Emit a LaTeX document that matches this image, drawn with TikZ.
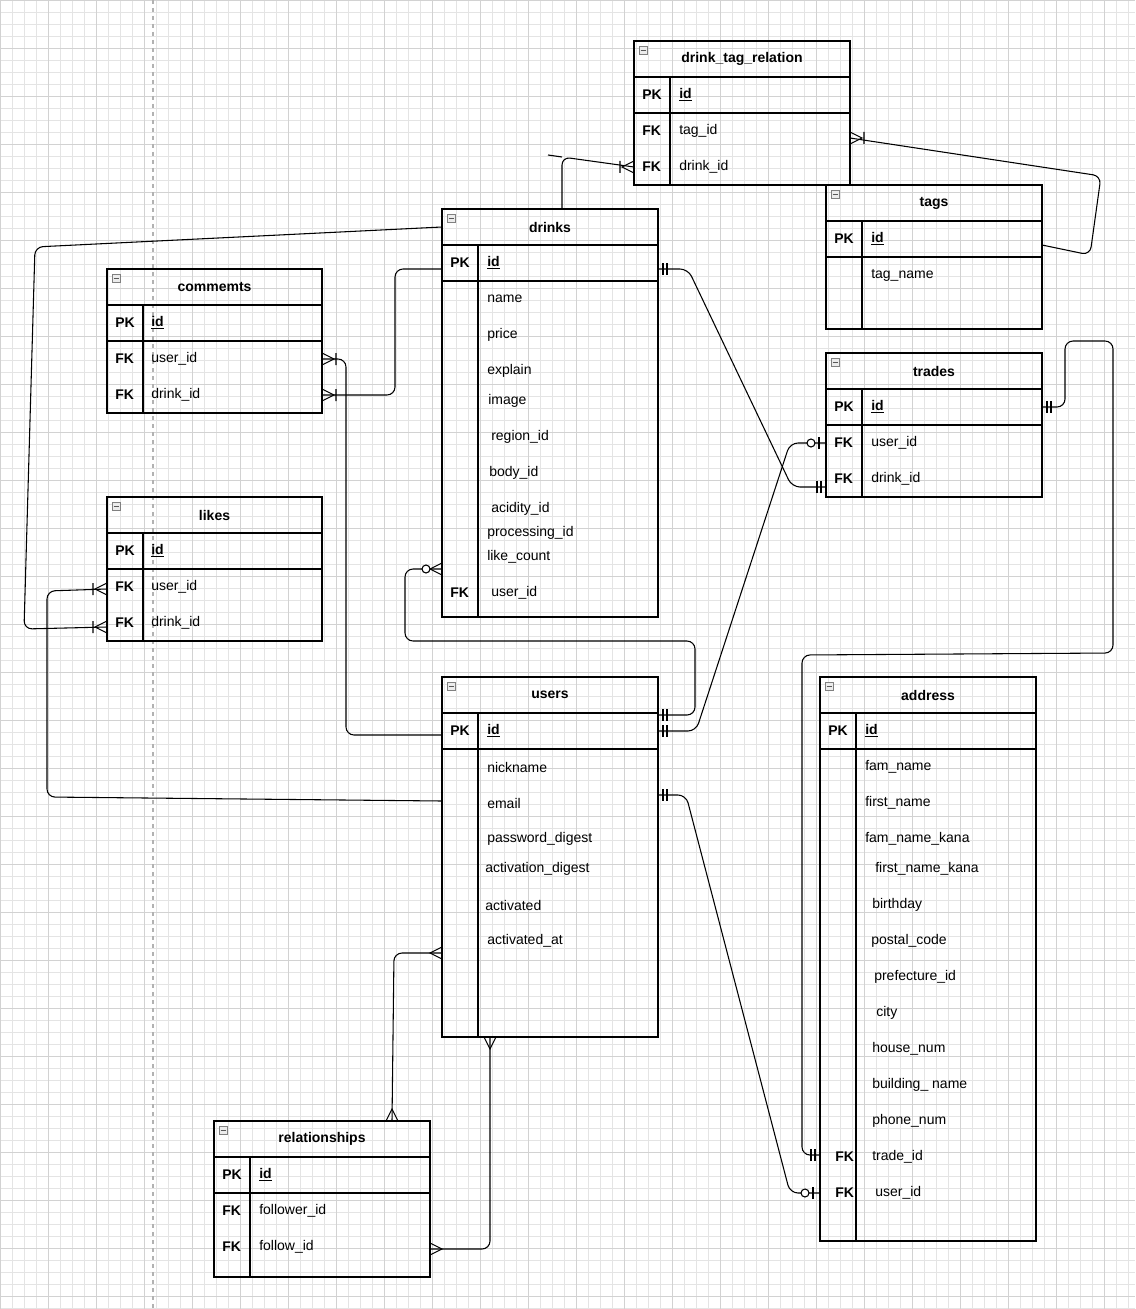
\documentclass[tikz,border=0pt]{standalone}
\usepackage{fontspec}
\setmainfont{Liberation Sans}
\usepackage{tikz}
\usetikzlibrary{calc}
\definecolor{gridLine}{HTML}{E4E4E4}
\definecolor{gridMajor}{HTML}{D2D2D2}

\tikzset{
  tab/.style={black, line width=0.9pt},
  ttl/.style={font=\fontsize{10.5}{12}\selectfont\bfseries},
  fld/.style={anchor=west, inner sep=0pt, font=\fontsize{10.5}{12}\selectfont},
  key/.style={anchor=west, inner sep=0pt, font=\fontsize{10.5}{12}\selectfont\bfseries},
  rel/.style={black, line width=0.8pt, rounded corners=6pt},
}

% table frame: name, x1, y1, x2, y2, title, divider x
\newcommand\ertable[7]{
  \draw[tab] (#2,#3) rectangle (#4,#5);
  \draw[tab] (#2,#3+36) -- (#4,#3+36);
  \draw[tab] (#2,#3+72) -- (#4,#3+72);
  \draw[tab] (#7,#3+36) -- (#7,#5);
  \draw[gray, line width=0.5pt, fill=gray!15] (#2+5,#3+5) rectangle (#2+13,#3+13);
  \draw[gray!70!black, line width=0.6pt] (#2+6.5,#3+9) -- (#2+11.5,#3+9);
  \node[ttl] (#1) at ({(#2+#4)/2},#3+18) {#6};
}
% end marks: x, y, direction the line leaves in
\newcommand\mkmany[3]{\begin{scope}[shift={(#1,#2)},rotate=#3]
  \draw[line width=0.8pt] (0,-6) -- (12,0) -- (0,6); \end{scope}}
\newcommand\mkonemany[3]{\begin{scope}[shift={(#1,#2)},rotate=#3]
  \draw[line width=0.8pt] (0,-6) -- (12,0) -- (0,6) (14,-6) -- (14,6); \end{scope}}
\newcommand\mkzeromany[3]{\begin{scope}[shift={(#1,#2)},rotate=#3]
  \draw[line width=0.8pt] (0,-6) -- (12,0) -- (0,6);
  \draw[line width=0.8pt, fill=white] (16,0) circle (4); \end{scope}}
\newcommand\mkone[3]{\begin{scope}[shift={(#1,#2)},rotate=#3]
  \draw[line width=0.8pt] (5,-6) -- (5,6) (9,-6) -- (9,6); \end{scope}}
\newcommand\mkzeroone[3]{\begin{scope}[shift={(#1,#2)},rotate=#3]
  \draw[line width=0.8pt] (7,-6) -- (7,6);
  \draw[line width=0.8pt, fill=white] (15,0) circle (4); \end{scope}}

\begin{document}
\begin{tikzpicture}[x=0.75pt, y=-0.75pt]
  \useasboundingbox (0,0) rectangle (1135,1309);
  \fill[white] (0,0) rectangle (1135,1309);
  % grid
  \foreach \g in {0,12,...,1135}
    \draw[gridLine, line width=0.4pt] (\g,0) -- (\g,1309);
  \foreach \g in {0,12,...,1309}
    \draw[gridLine, line width=0.4pt] (0,\g) -- (1135,\g);
  \foreach \g in {0,48,...,1135}
    \draw[gridMajor, line width=0.5pt] (\g,0) -- (\g,1309);
  \foreach \g in {0,48,...,1309}
    \draw[gridMajor, line width=0.5pt] (0,\g) -- (1135,\g);
  \draw[gray!60, dashed, line width=0.8pt] (153,0) -- (153,1309);

  % tables
  \ertable{dtr}{634}{41}{850}{185}{drink\_tag\_relation}{670}
  \ertable{tags}{826}{185}{1042}{329}{tags}{862}
  \ertable{drinks}{442}{209}{658}{617}{drinks}{478}
  \ertable{comments}{107}{269}{322}{413}{commemts}{143}
  \ertable{likes}{107}{497}{322}{641}{likes}{143}
  \ertable{trades}{826}{353}{1042}{497}{trades}{862}
  \ertable{users}{442}{677}{658}{1037}{users}{478}
  \ertable{address}{820}{677}{1036}{1241}{address}{856}
  \ertable{rels}{214}{1121}{430}{1277}{relationships}{250}

  % fields
  \node[key] at (642,95) {PK}; \node[key] at (679,95) {\underline{id}};
  \node[key] at (642,131) {FK}; \node[fld] at (679,131) {tag\_id};
  \node[key] at (642,167) {FK}; \node[fld] at (679,167) {drink\_id};

  \node[key] at (834,239) {PK}; \node[key] at (871,239) {\underline{id}};
  \node[fld] at (871,275) {tag\_name};

  \node[key] at (450,263) {PK}; \node[key] at (487,263) {\underline{id}};
  \foreach \t/\x/\y in {name/487/299, price/487/335, explain/487/371, image/488/401,
      region\_id/491/437, body\_id/489/473, acidity\_id/491/509,
      processing\_id/487/533, like\_count/487/557, user\_id/491/593}
    \node[fld] at (\x,\y) {\t};
  \node[key] at (450,593) {FK};

  \node[key] at (115,323) {PK}; \node[key] at (151,323) {\underline{id}};
  \node[key] at (115,359) {FK}; \node[fld] at (151,359) {user\_id};
  \node[key] at (115,395) {FK}; \node[fld] at (151,395) {drink\_id};

  \node[key] at (115,551) {PK}; \node[key] at (151,551) {\underline{id}};
  \node[key] at (115,587) {FK}; \node[fld] at (151,587) {user\_id};
  \node[key] at (115,623) {FK}; \node[fld] at (151,623) {drink\_id};

  \node[key] at (834,407) {PK}; \node[key] at (871,407) {\underline{id}};
  \node[key] at (834,443) {FK}; \node[fld] at (871,443) {user\_id};
  \node[key] at (834,479) {FK}; \node[fld] at (871,479) {drink\_id};

  \node[key] at (450,731) {PK}; \node[key] at (487,731) {\underline{id}};
  \foreach \t/\x/\y in {nickname/487/767, email/487/803, password\_digest/487/839,
      activation\_digest/485/869, activated/485/905, activated\_at/487/941}
    \node[fld] at (\x,\y) {\t};

  \node[key] at (828,731) {PK}; \node[key] at (865,731) {\underline{id}};
  \foreach \t/\x/\y in {fam\_name/865/767, first\_name/865/803, fam\_name\_kana/865/839,
      first\_name\_kana/875/869, birthday/872/905, postal\_code/871/941,
      prefecture\_id/874/977, city/876/1013, house\_num/872/1049,
      building\_ name/872/1085, phone\_num/872/1121, trade\_id/872/1157, user\_id/875/1193}
    \node[fld] at (\x,\y) {\t};
  \node[key] at (835,1157) {FK}; \node[key] at (835,1193) {FK};

  \node[key] at (222,1175) {PK}; \node[key] at (259,1175) {\underline{id}};
  \node[key] at (222,1211) {FK}; \node[fld] at (259,1211) {follower\_id};
  \node[key] at (222,1247) {FK}; \node[fld] at (259,1247) {follow\_id};

  % connector ends
  \coordinate (dtr-drink) at (634,167);
  \coordinate (dtr-tag) at (850,138);
  \coordinate (drinks-top) at (562,209);
  \coordinate (drinks-id-r) at (658,269);
  \coordinate (drinks-id-l) at (442,269);
  \coordinate (drinks-l) at (442,227);
  \coordinate (drinks-like) at (442,569);
  \coordinate (tags-id) at (1042,245);
  \coordinate (trades-id) at (1042,407);
  \coordinate (trades-user) at (826,443);
  \coordinate (trades-drink) at (826,487);
  \coordinate (com-user) at (322,359);
  \coordinate (com-drink) at (322,395);
  \coordinate (likes-user) at (107,589);
  \coordinate (likes-drink) at (107,627);
  \coordinate (users-a) at (658,715);
  \coordinate (users-id-r) at (658,731);
  \coordinate (users-id-l) at (442,735);
  \coordinate (users-email-l) at (442,801);
  \coordinate (users-email-r) at (658,795);
  \coordinate (users-rel) at (442,953);
  \coordinate (users-bot) at (490,1037);
  \coordinate (addr-trade) at (820,1155);
  \coordinate (addr-user) at (820,1193);
  \coordinate (rels-top) at (392,1121);
  \coordinate (rels-follow) at (430,1249);

  % relations
  \draw[rel] (drinks-top) -- (562,157) -- (dtr-drink);
  \draw[line width=0.8pt] (548,155) -- (562,157);
  \mkonemany{634}{167}{180}
  \draw[rel] (tags-id) -- (1090,255) -- (1101,176) -- (dtr-tag);
  \mkonemany{850}{138}{0}
  \draw[rel] (drinks-id-r) -- (688,269) -- (792,487) -- (trades-drink);
  \mkone{658}{269}{0} \mkone{826}{487}{180}
  \draw[rel] (users-id-r) -- (696,731) -- (790,443) -- (trades-user);
  \mkone{658}{731}{0} \mkzeroone{826}{443}{180}
  \draw[rel] (users-a) -- (695,715) -- (695,641) -- (405,641) -- (405,569) -- (drinks-like);
  \mkone{658}{715}{0} \mkzeromany{442}{569}{180}
  \draw[rel] (users-id-l) -- (346,735) -- (346,359) -- (com-user);
  \mkonemany{322}{359}{0}
  \draw[rel] (drinks-id-l) -- (395,269) -- (395,395) -- (com-drink);
  \mkonemany{322}{395}{0}
  \draw[rel] (drinks-l) -- (35,247) -- (24,629) -- (likes-drink);
  \mkonemany{107}{627}{180}
  \draw[rel] (users-email-l) -- (47,797) -- (47,591) -- (likes-user);
  \mkonemany{107}{589}{180}
  \draw[rel] (trades-id) -- (1065,407) -- (1065,341) -- (1113,341) -- (1113,653)
    -- (802,655) -- (802,1155) -- (addr-trade);
  \mkone{1042}{407}{0} \mkone{820}{1155}{180}
  \draw[rel] (users-email-r) -- (686,795) -- (790,1193) -- (addr-user);
  \mkone{658}{795}{0} \mkzeroone{820}{1193}{180}
  \draw[rel] (users-rel) -- (394,953) -- (392,1121);
  \mkmany{442}{953}{180} \mkmany{392}{1121}{90}
  \draw[rel] (users-bot) -- (490,1249) -- (rels-follow);
  \mkmany{490}{1037}{-90} \mkmany{430}{1249}{0}
\end{tikzpicture}
\end{document}
